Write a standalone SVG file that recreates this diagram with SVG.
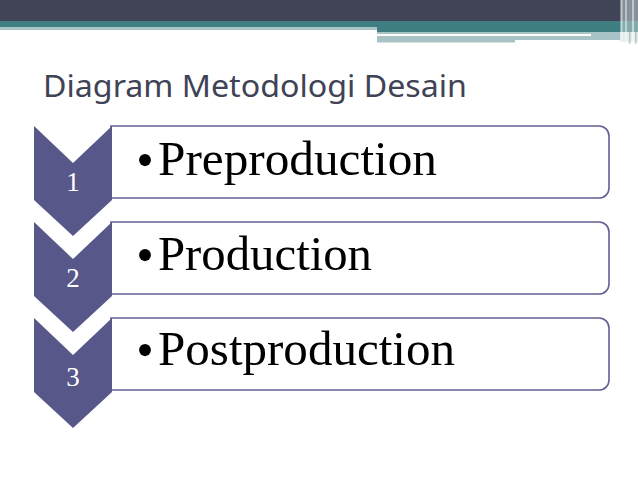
<svg xmlns="http://www.w3.org/2000/svg" width="638" height="478" viewBox="0 0 638 478">
<style>
.chev{fill:#57578a}
.box{fill:#ffffff;stroke:#5f5f94;stroke-width:1.6}
.num{font-family:"Liberation Serif",serif;font-size:27px;fill:#ffffff;text-anchor:middle}
.bul{font-family:"Liberation Serif",serif;font-size:50px;fill:#000000;text-anchor:middle}
.item{font-family:"Liberation Serif",serif;font-size:48px;fill:#000000}
.title{font-family:"Noto Sans","DejaVu Sans",sans-serif;font-size:31px;fill:#404356}
</style>
<rect width="638" height="478" fill="#ffffff"/>
<g id="banner">
<rect x="0" y="0" width="638" height="21" fill="#414357"/>
<rect x="0" y="21" width="638" height="6" fill="#3f7e81"/>
<rect x="0" y="27" width="377" height="3" fill="#a7c3c5"/>
<rect x="377" y="27" width="261" height="5" fill="#3f7e81"/>
<rect x="377" y="32" width="243" height="8" fill="#a7c3c5"/>
<rect x="377" y="34" width="214" height="2" fill="#ffffff"/>
<rect x="377" y="40" width="138" height="2.5" fill="#a7c3c5"/>
<rect x="620" y="0" width="18" height="42" fill="#c9dbdc" opacity="0.5"/>
<rect x="621" y="0" width="1.5" height="42" fill="#ffffff" opacity="0.5"/>
<rect x="625" y="0" width="2" height="44" fill="#ffffff" opacity="0.45"/>
<rect x="629" y="0" width="1.5" height="44" fill="#8a9ca0" opacity="0.5"/>
<rect x="632" y="0" width="2" height="44" fill="#ffffff" opacity="0.5"/>
<rect x="635" y="0" width="1.5" height="44" fill="#8a9ca0" opacity="0.5"/>
</g>
<g id="title">
<text class="title" x="43" y="97" textLength="424" lengthAdjust="spacingAndGlyphs">Diagram Metodologi Desain</text>
</g>
<g id="step1">
<path class="box" d="M111,126 H599 A10,10 0 0 1 609,136 V188 A10,10 0 0 1 599,198 H111 Z"/>
<path class="chev" d="M34,126 L73,163 L112,126 L112,200 L73,236 L34,200 Z"/>
<text class="num" x="73" y="191">1</text>
<text class="bul" x="145" y="177">•</text>
<text class="item" x="158" y="175" textLength="279" lengthAdjust="spacingAndGlyphs">Preproduction</text>
</g>
<g id="step2">
<path class="box" d="M111,222 H599 A10,10 0 0 1 609,232 V284 A10,10 0 0 1 599,294 H111 Z"/>
<path class="chev" d="M34,222 L73,259 L112,222 L112,296 L73,332 L34,296 Z"/>
<text class="num" x="73" y="287">2</text>
<text class="bul" x="145" y="272">•</text>
<text class="item" x="158" y="270" textLength="214" lengthAdjust="spacingAndGlyphs">Production</text>
</g>
<g id="step3">
<path class="box" d="M111,318 H599 A10,10 0 0 1 609,328 V380 A10,10 0 0 1 599,390 H111 Z"/>
<path class="chev" d="M34,318 L73,355 L112,318 L112,392 L73,428 L34,392 Z"/>
<text class="num" x="73" y="386">3</text>
<text class="bul" x="145" y="367">•</text>
<text class="item" x="158" y="365" textLength="297" lengthAdjust="spacingAndGlyphs">Postproduction</text>
</g>
<g id="connectors"></g>
</svg>
